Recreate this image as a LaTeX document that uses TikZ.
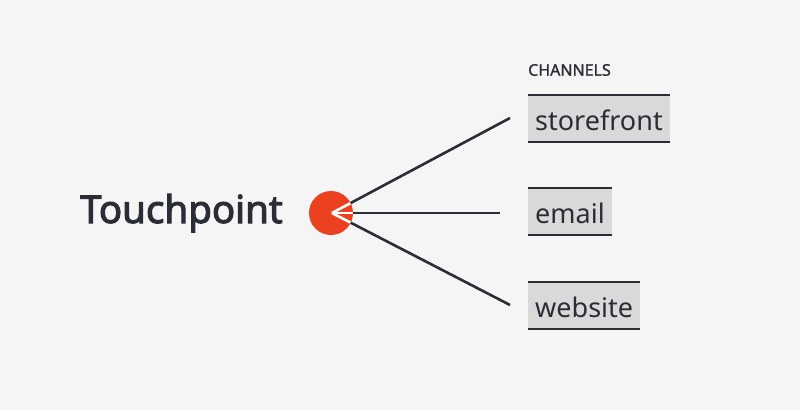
\documentclass[tikz,border=0pt]{standalone}
\usepackage{fontspec}
\setmainfont{Noto Sans}
\newfontfamily\medfont[FakeBold=2.6]{Noto Sans}
\newfontfamily\semifont[FakeBold=1.2]{Noto Sans}
\definecolor{bg}{HTML}{F5F5F5}
\definecolor{ink}{HTML}{2A2D36}
\definecolor{hub}{HTML}{EC4121}
\definecolor{boxfill}{HTML}{D9D9D9}
\begin{document}
\begin{tikzpicture}[x=1pt,y=-1pt,
  chan/.style={anchor=west, fill=boxfill, text=ink, inner xsep=7pt, inner ysep=0pt,
    minimum height=47pt, text height=24pt, text depth=0pt, font=\fontsize{27}{31}\selectfont},
  link/.style={draw=ink, line width=2.6pt},
  inlink/.style={draw=white, line width=2.6pt}]
\fill[bg] (0,0) rectangle (800,410);
\useasboundingbox (0,0) rectangle (800,410);
\node[anchor=east, text=ink, font=\medfont\fontsize{38.5}{44}\selectfont, inner sep=0pt] (title) at (283,213) {Touchpoint};
\node[circle, fill=hub, minimum size=44pt, inner sep=0pt] (hubc) at (331,213) {};
\coordinate (c) at (332,213);
\node[anchor=west, text=ink, font=\semifont\fontsize{16}{18}\selectfont, inner sep=0pt] (head) at (528,70) {CHANNELS};
\node[chan] (s) at (528,118.5) {storefront};
\node[chan] (e) at (528,211.5) {email};
\node[chan] (w) at (528,305.5) {website};
\foreach \n in {s,e,w}{
  \draw[ink, line width=1.6pt] (\n.north west) -- (\n.north east);
  \draw[ink, line width=1.6pt] (\n.south west) -- (\n.south east);
}
\coordinate (se) at (510,118);
\coordinate (ee) at (500,213);
\coordinate (we) at (510,305);
\begin{scope}
  \clip (hubc.center) circle (22pt);
  \draw[inlink] (c) -- (se);
  \draw[inlink] (c) -- (ee);
  \draw[inlink] (c) -- (we);
\end{scope}
\begin{scope}[even odd rule]
  \clip (0,0) rectangle (800,410) (hubc.center) circle (22pt);
  \draw[link] (c) -- (se);
  \draw[link] (c) -- (ee);
  \draw[link] (c) -- (we);
\end{scope}
\end{tikzpicture}
\end{document}
